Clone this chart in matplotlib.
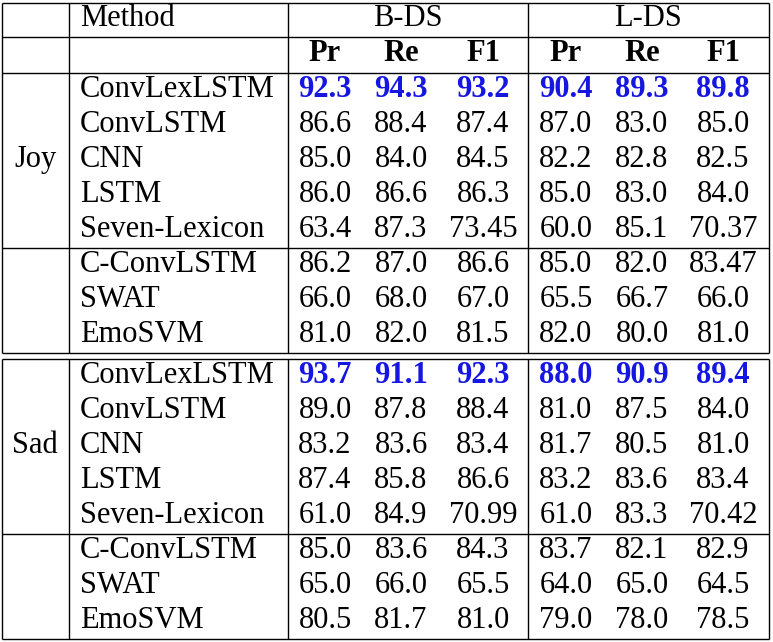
import numpy as np
import matplotlib
matplotlib.use("Agg")
import matplotlib.pyplot as plt

# table contents
emotions = ["Joy", "Sad"]
methods = ["ConvLexLSTM", "ConvLSTM", "CNN", "LSTM", "Seven-Lexicon",
           "C-ConvLSTM", "SWAT", "EmoSVM"]
datasets = ["B-DS", "L-DS"]
metrics = ["Pr", "Re", "F1"]

# rows follow `methods`, columns are Pr, Re, F1
joy_bds = [[92.3, 94.3, 93.2], [86.6, 88.4, 87.4], [85.0, 84.0, 84.5],
           [86.0, 86.6, 86.3], [63.4, 87.3, 73.45], [86.2, 87.0, 86.6],
           [66.0, 68.0, 67.0], [81.0, 82.0, 81.5]]
joy_lds = [[90.4, 89.3, 89.8], [87.0, 83.0, 85.0], [82.2, 82.8, 82.5],
           [85.0, 83.0, 84.0], [60.0, 85.1, 70.37], [85.0, 82.0, 83.47],
           [65.5, 66.7, 66.0], [82.0, 80.0, 81.0]]
sad_bds = [[93.7, 91.1, 92.3], [89.0, 87.8, 88.4], [83.2, 83.6, 83.4],
           [87.4, 85.8, 86.6], [61.0, 84.9, 70.99], [85.0, 83.6, 84.3],
           [65.0, 66.0, 65.5], [80.5, 81.7, 81.0]]
sad_lds = [[88.0, 90.9, 89.4], [81.0, 87.5, 84.0], [81.7, 80.5, 81.0],
           [83.2, 83.6, 83.4], [61.0, 83.3, 70.42], [83.7, 82.1, 82.9],
           [64.0, 65.0, 64.5], [79.0, 78.0, 78.5]]

blocks = {"Joy": (joy_bds, joy_lds), "Sad": (sad_bds, sad_lds)}

# layout in pixels (figure is 773x642 at dpi 100)
FONT = "Liberation Serif"
FS = 22
BLUE = "#1616e2"
ROW_H = 35
VX = [1.5, 69, 287.5, 528, 768.5]
COL_X = [325, 401, 483, 566, 642, 723]
NAME_X = 80
LW = 1.0

fig = plt.figure(figsize=(7.73, 6.42), dpi=100)
ax = fig.add_axes([0, 0, 1, 1])
ax.set_xlim(0, 773)
ax.set_ylim(642, 0)
ax.axis("off")


def txt(x, y, s, ha="center", **kw):
    ax.text(x, y, s, ha=ha, va="baseline", fontsize=FS, family=FONT, **kw)


def hline(y):
    ax.plot([VX[0], VX[-1]], [y, y], color="black", lw=LW, solid_capstyle="butt")


def vlines(y0, y1):
    for x in VX:
        ax.plot([x, x], [y0, y1], color="black", lw=LW, solid_capstyle="butt")


# header
top = 2.5
hline(top)
txt(NAME_X, top + 24, "Method", ha="left")
for d, name in enumerate(datasets):
    txt((VX[2 + d] + VX[3 + d]) / 2, top + 24, name)
y = top + 34.5
hline(y)
for d in range(len(datasets)):
    for m, name in enumerate(metrics):
        txt(COL_X[d * 3 + m], y + 24, name, fontweight="bold")
y += 36
hline(y)
start = top

n_main = 5
for b, emo in enumerate(emotions):
    bds, lds = blocks[emo]
    vals = np.hstack([np.array(bds), np.array(lds)])
    best = vals.argmax(axis=0)
    if b > 0:
        hline(y)
        start = y
    for r, meth in enumerate(methods):
        base = y + 24
        txt(NAME_X, base, meth, ha="left")
        for c in range(vals.shape[1]):
            if best[c] == r:
                txt(COL_X[c], base, str(vals[r, c]), fontweight="bold", color=BLUE)
            else:
                txt(COL_X[c], base, str(vals[r, c]))
        if r == n_main // 2:
            txt((VX[0] + VX[1]) / 2, base, emo)
        y += ROW_H
        if r == n_main - 1:
            hline(y)
    hline(y)
    vlines(start, y)
    y += 6

fig.savefig("out.png", dpi=100)
